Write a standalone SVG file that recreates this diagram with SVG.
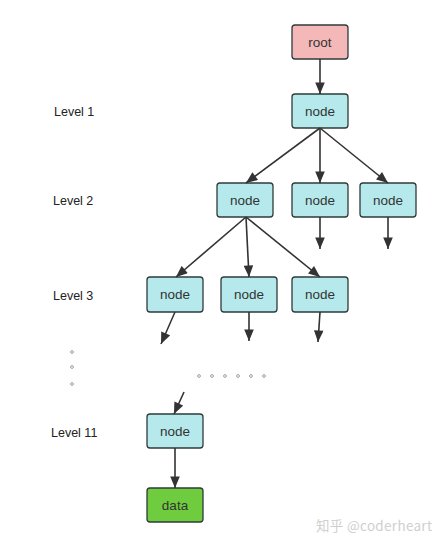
<svg xmlns="http://www.w3.org/2000/svg" width="440" height="547" viewBox="0 0 440 547">
<style>
.box{stroke:#2f3b3b;stroke-width:1.3}
.node{fill:#b6e9eb}
.root{fill:#f5b8b8}
.data{fill:#6fcc3e}
.t{font-family:"Liberation Sans",Arial,sans-serif;font-size:13.5px;fill:#333;text-anchor:middle}
.lbl{font-family:"Liberation Sans",Arial,sans-serif;font-size:12.5px;fill:#222}
.c line{stroke:#333;stroke-width:1.6;marker-end:url(#ah)}
.dot{fill:none;stroke:#888;stroke-width:0.8}
</style>
<defs>
<marker id="ah" viewBox="0 0 12 10" refX="12" refY="5" markerWidth="8" markerHeight="6" markerUnits="strokeWidth" orient="auto">
<path d="M0,0 L12,5 L0,10 z" fill="#333"/>
</marker>
</defs>
<rect width="440" height="547" fill="#fff"/>
<g id="labels">
<text class="lbl" x="54" y="116">Level 1</text>
<text class="lbl" x="53" y="205">Level 2</text>
<text class="lbl" x="53" y="300">Level 3</text>
<text class="lbl" x="51" y="437">Level 11</text>
</g>
<g id="root"><rect class="box root" x="292" y="25" width="56" height="34" rx="3"/><text class="t" x="320" y="47">root</text></g>
<g id="n1"><rect class="box node" x="292" y="94" width="56" height="34" rx="3"/><text class="t" x="320" y="116">node</text></g>
<g id="n2a"><rect class="box node" x="217" y="183" width="56" height="34" rx="3"/><text class="t" x="245" y="205">node</text></g>
<g id="n2b"><rect class="box node" x="292" y="183" width="56" height="34" rx="3"/><text class="t" x="320" y="205">node</text></g>
<g id="n2c"><rect class="box node" x="360" y="183" width="56" height="34" rx="3"/><text class="t" x="388" y="205">node</text></g>
<g id="n3a"><rect class="box node" x="147" y="277" width="56" height="35" rx="3"/><text class="t" x="175" y="299">node</text></g>
<g id="n3b"><rect class="box node" x="221" y="277" width="56" height="35" rx="3"/><text class="t" x="249" y="299">node</text></g>
<g id="n3c"><rect class="box node" x="292" y="277" width="56" height="35" rx="3"/><text class="t" x="320" y="299">node</text></g>
<g id="n11"><rect class="box node" x="147" y="414" width="56" height="34" rx="3"/><text class="t" x="175" y="436">node</text></g>
<g id="data"><rect class="box data" x="147" y="488" width="56" height="34" rx="3"/><text class="t" x="175" y="510">data</text></g>
<g class="c" id="connectors">
<line x1="320" y1="59" x2="320" y2="94"/>
<line x1="320" y1="128" x2="246" y2="183"/>
<line x1="320" y1="128" x2="320" y2="183"/>
<line x1="320" y1="128" x2="388" y2="183"/>
<line x1="320" y1="217" x2="320" y2="249"/>
<line x1="388" y1="217" x2="388" y2="249"/>
<line x1="246" y1="217" x2="176" y2="277"/>
<line x1="246" y1="217" x2="249" y2="277"/>
<line x1="246" y1="217" x2="320" y2="277"/>
<line x1="175" y1="312" x2="161" y2="344"/>
<line x1="249" y1="312" x2="249" y2="341"/>
<line x1="320" y1="312" x2="318" y2="342"/>
<line x1="184" y1="392" x2="174" y2="414"/>
<line x1="175" y1="448" x2="175" y2="488"/>
</g>
<g id="dots">
<circle class="dot" cx="72" cy="352" r="1.4"/>
<circle class="dot" cx="72" cy="367" r="1.4"/>
<circle class="dot" cx="72" cy="384" r="1.4"/>
<circle class="dot" cx="199" cy="376" r="1.4"/>
<circle class="dot" cx="212" cy="376" r="1.4"/>
<circle class="dot" cx="225" cy="376" r="1.4"/>
<circle class="dot" cx="238" cy="376" r="1.4"/>
<circle class="dot" cx="251" cy="376" r="1.4"/>
<circle class="dot" cx="264" cy="376" r="1.4"/>
</g>
<text x="316" y="531" font-family="'Noto Sans CJK SC','Liberation Sans',sans-serif" font-size="13.5" textLength="116" fill="#cfcfcf">知乎 @coderheart</text>
</svg>
